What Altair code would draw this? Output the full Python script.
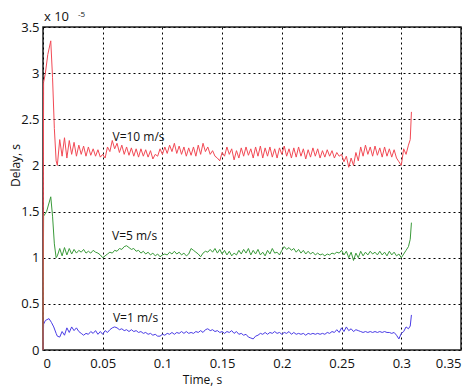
import altair as alt
import pandas as pd

# ---- data (delay in units of 1e-5 s) ----
red_head_t = [0.0, 0.0005, 0.002, 0.004, 0.0065, 0.008, 0.0095, 0.011, 0.012]
red_head_v = [0.0, 2.90, 3.00, 3.20, 3.35, 2.95, 2.40, 2.05, 2.00]
red_body = [
    2.28, 2.10, 2.30, 2.08, 2.27, 2.12, 2.25, 2.10, 2.22, 2.12, 2.21, 2.10, 2.20, 2.11, 2.18, 2.10,
    2.17, 2.09, 2.12, 2.08, 2.20, 2.15, 2.27, 2.18, 2.24, 2.14, 2.22, 2.12, 2.20, 2.11, 2.19, 2.10,
    2.18, 2.09, 2.18, 2.10, 2.17, 2.09, 2.16, 2.07, 2.12, 2.10, 2.18, 2.12, 2.20, 2.13, 2.22, 2.15,
    2.24, 2.13, 2.21, 2.12, 2.20, 2.10, 2.19, 2.11, 2.20, 2.10, 2.22, 2.12, 2.24, 2.15, 2.20, 2.12,
    2.16, 2.10, 2.08, 2.05, 2.14, 2.10, 2.20, 2.12, 2.18, 2.06, 2.16, 2.08, 2.19, 2.10, 2.20, 2.11,
    2.18, 2.08, 2.20, 2.10, 2.21, 2.08, 2.19, 2.10, 2.20, 2.09, 2.18, 2.08, 2.19, 2.12, 2.21, 2.10,
    2.18, 2.08, 2.19, 2.09, 2.20, 2.10, 2.18, 2.07, 2.17, 2.09, 2.19, 2.10, 2.18, 2.08, 2.16, 2.09,
    2.17, 2.10, 2.16, 2.08, 2.14, 2.10, 2.12, 2.04, 2.10, 1.98, 2.08, 2.00, 2.14, 2.05, 2.20, 2.10,
    2.22, 2.12, 2.20, 2.10, 2.21, 2.11, 2.19, 2.09, 2.20, 2.10, 2.18, 2.09, 2.17, 2.08, 2.04, 2.00,
]
red_tail_t = [0.302, 0.304, 0.306, 0.3075, 0.3085]
red_tail_v = [2.18, 2.12, 2.22, 2.28, 2.58]

green_head_t = [0.0, 0.0005, 0.003, 0.0065, 0.008, 0.0095, 0.011, 0.012]
green_head_v = [0.0, 1.45, 1.50, 1.66, 1.45, 1.15, 1.00, 1.02]
green_body = [
    1.10, 1.02, 1.11, 1.03, 1.10, 1.04, 1.09, 1.05, 1.08, 1.06, 1.09, 1.05, 1.07, 1.05, 1.08, 1.06,
    1.05, 1.03, 1.00, 1.02, 1.04, 1.06, 1.05, 1.08, 1.07, 1.10, 1.09, 1.12, 1.13, 1.11, 1.09, 1.10,
    1.07, 1.08, 1.05, 1.07, 1.04, 1.06, 1.03, 1.05, 1.02, 1.04, 1.01, 1.03, 1.04, 1.03, 1.06, 1.04,
    1.07, 1.04, 1.06, 1.03, 1.05, 1.02, 1.04, 1.10, 1.08, 1.06, 1.04, 1.01, 1.05, 1.07, 1.06, 1.09,
    1.06, 1.10, 1.05, 1.09, 1.04, 1.08, 1.03, 1.07, 1.02, 1.05, 1.03, 1.08, 1.04, 1.09, 1.05, 1.10,
    1.03, 1.08, 1.04, 1.09, 1.03, 1.06, 1.02, 1.08, 1.04, 1.10, 1.05, 1.06, 1.03, 1.08, 1.12, 1.09,
    1.11, 1.08, 1.10, 1.06, 1.09, 1.05, 1.08, 1.04, 1.07, 1.04, 1.06, 1.03, 1.05, 1.03, 1.04, 1.02,
    1.04, 1.03, 1.05, 1.04, 1.06, 1.05, 1.08, 1.03, 1.07, 1.00, 1.06, 0.97, 1.05, 1.00, 1.07, 1.02,
    1.06, 1.03, 1.07, 1.04, 1.06, 1.03, 1.07, 1.03, 1.06, 1.02, 1.07, 1.03, 1.06, 1.02, 1.04, 1.00,
]
green_tail_t = [0.302, 0.304, 0.306, 0.3075, 0.3085]
green_tail_v = [1.04, 1.08, 1.12, 1.20, 1.38]

blue_head_t = [0.0, 0.0005, 0.002, 0.005, 0.007, 0.009, 0.011, 0.012]
blue_head_v = [0.0, 0.28, 0.32, 0.34, 0.30, 0.25, 0.18, 0.15]
blue_body = [
    0.14, 0.20, 0.16, 0.24, 0.19, 0.25, 0.21, 0.24, 0.20, 0.18, 0.16, 0.18, 0.17, 0.20, 0.18, 0.21,
    0.17, 0.20, 0.17, 0.21, 0.19, 0.22, 0.24, 0.25, 0.24, 0.22, 0.23, 0.21, 0.22, 0.20, 0.22, 0.20,
    0.21, 0.19, 0.20, 0.18, 0.19, 0.17, 0.18, 0.16, 0.17, 0.15, 0.15, 0.17, 0.16, 0.18, 0.17, 0.19,
    0.17, 0.19, 0.18, 0.20, 0.18, 0.20, 0.18, 0.19, 0.18, 0.20, 0.19, 0.21, 0.19, 0.22, 0.23, 0.21,
    0.22, 0.20, 0.21, 0.19, 0.20, 0.18, 0.20, 0.19, 0.21, 0.18, 0.20, 0.17, 0.18, 0.16, 0.17, 0.14,
    0.13, 0.12, 0.15, 0.16, 0.18, 0.17, 0.19, 0.17, 0.19, 0.18, 0.20, 0.18, 0.19, 0.17, 0.19, 0.18,
    0.20, 0.17, 0.19, 0.17, 0.18, 0.17, 0.18, 0.16, 0.18, 0.17, 0.18, 0.17, 0.18, 0.17, 0.18, 0.17,
    0.19, 0.18, 0.20, 0.19, 0.22, 0.19, 0.24, 0.20, 0.25, 0.21, 0.23, 0.20, 0.22, 0.21, 0.20, 0.19,
    0.20, 0.19, 0.20, 0.19, 0.20, 0.19, 0.20, 0.19, 0.20, 0.19, 0.19, 0.18, 0.19, 0.16, 0.12, 0.18,
]
blue_tail_t = [0.302, 0.304, 0.306, 0.3075, 0.3085]
blue_tail_v = [0.20, 0.25, 0.23, 0.26, 0.38]

series_names = ["V=1 m/s", "V=5 m/s", "V=10 m/s"]
series_colors = ["#4a3ce6", "#3a9a3a", "#f24a55"]

label_text = ["V=10 m/s", "V=5 m/s", "V=1 m/s"]
label_t = [0.080, 0.0767, 0.0775]
label_v = [2.26, 1.19, 0.30]

x_ticks = [0, 0.05, 0.1, 0.15, 0.2, 0.25, 0.3, 0.35]
y_ticks = [0, 0.5, 1, 1.5, 2, 2.5, 3, 3.5]


def build(name, head_t, head_v, body, tail_t, tail_v):
    body_t = [round(0.014 + 0.002 * i, 4) for i in range(len(body))]
    t = head_t + body_t + tail_t
    v = head_v + body + tail_v
    return pd.DataFrame({"t": t, "v": v, "s": name, "o": range(len(t))})


df = pd.concat([
    build("V=1 m/s", blue_head_t, blue_head_v, blue_body, blue_tail_t, blue_tail_v),
    build("V=5 m/s", green_head_t, green_head_v, green_body, green_tail_t, green_tail_v),
    build("V=10 m/s", red_head_t, red_head_v, red_body, red_tail_t, red_tail_v),
])

FONT = "Open Sans"

lines = alt.Chart(df).mark_line(strokeWidth=1).encode(
    x=alt.X("t:Q", scale=alt.Scale(domain=[0, 0.35], nice=False),
            axis=alt.Axis(values=x_ticks, format="~g", title="Time, s",
                          titleX=159, titleY=24, titleAnchor="middle")),
    y=alt.Y("v:Q", scale=alt.Scale(domain=[0, 3.5], nice=False),
            axis=alt.Axis(values=y_ticks, format="~g", title="Delay, s",
                          titleX=-21, titleY=138)),
    color=alt.Color("s:N", scale=alt.Scale(domain=series_names, range=series_colors), legend=None),
    order="o:Q",
)

labels = alt.Chart(pd.DataFrame({"t": label_t, "v": label_v, "txt": label_text})).mark_text(
    font=FONT, fontSize=12, color="#111", align="center", baseline="alphabetic"
).encode(x="t:Q", y="v:Q", text="txt:N")

mult = alt.Chart(pd.DataFrame({"a": [0]})).mark_text(
    font=FONT, fontSize=13, color="#111", align="left", baseline="alphabetic"
).encode(x=alt.value(1), y=alt.value(-6), text=alt.value("x 10"))

expo = alt.Chart(pd.DataFrame({"a": [0]})).mark_text(
    font=FONT, fontSize=8, color="#111", align="left", baseline="alphabetic"
).encode(x=alt.value(35), y=alt.value(-10), text=alt.value("-5"))

chart = alt.layer(lines, labels, mult, expo).properties(
    width=418, height=323,
    autosize=alt.AutoSizeParams(type="none"),
    padding={"left": 35, "top": 19, "right": 5, "bottom": 40},
    background="white",
).configure_view(
    stroke="#222", strokeWidth=1.5
).configure_axis(
    domain=False, ticks=False,
    grid=True, gridColor="#000", gridOpacity=1, gridWidth=1, gridDash=[2, 3],
    labelFont=FONT, labelFontSize=13, labelColor="#111",
    titleFont=FONT, titleFontSize=12, titleFontWeight="normal", titleColor="#111",
).configure_axisX(labelPadding=7).configure_axisY(labelPadding=4)

chart.save("out.html", embed_options={"renderer": "svg", "actions": False})
